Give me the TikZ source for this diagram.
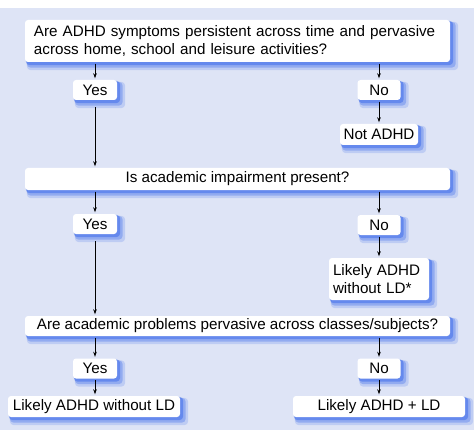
\documentclass[tikz,border=0pt]{standalone}
\usepackage{fontspec}
\setmainfont{Liberation Sans}
\usetikzlibrary{arrows.meta,backgrounds}
\definecolor{panel}{RGB}{222,228,246}
\definecolor{glow}{RGB}{65,110,235}

\tikzset{
  box/.style={draw=none, fill=white, rounded corners=3pt, inner sep=0pt,
    font=\fontsize{15.2}{18}\selectfont},
  qbox/.style={box, minimum width=425pt},
  ans/.style={box, minimum height=20pt},
  glowbox/.style={fill=glow, fill opacity=#1, rounded corners=4pt},
  arr/.style={-{Stealth[length=5pt,width=3.5pt]}, line width=0.9pt, shorten >=1.5pt, shorten <=1.5pt}
}

\begin{document}
\begin{tikzpicture}[x=1pt,y=-1pt]
  \useasboundingbox (0,0) rectangle (474,433);

  % first question
  \node[qbox, minimum height=42pt, text width=407pt, align=left] (q1) at (237.5,41)
    {Are ADHD symptoms persistent across time and pervasive\\across home, school and leisure activities?};
  \node[ans, minimum width=44pt] (yes1) at (95,90) {Yes};
  \node[ans, minimum width=43pt] (no1) at (379,90) {No};
  \node[ans, minimum width=78pt, minimum height=21pt] (notadhd) at (379,134.5) {Not ADHD};

  % second question
  \node[qbox, minimum height=22pt] (q2) at (237.5,179) {Is academic impairment present?};
  \node[ans, minimum width=44pt] (yes2) at (95,224) {Yes};
  \node[ans, minimum width=43pt] (no2) at (379,225) {No};
  \node[box, minimum width=100pt, minimum height=42pt, text width=92pt, align=left] (likely1) at (379,279)
    {Likely ADHD\\without LD*};

  % third question
  \node[qbox, minimum height=20pt] (q3) at (237.5,326) {Are academic problems pervasive across classes/subjects?};
  \node[ans, minimum width=44pt] (yes3) at (95,368.5) {Yes};
  \node[ans, minimum width=43pt] (no3) at (379,368.5) {No};
  \node[box, minimum width=172pt, minimum height=21pt] (likely2) at (94,406.5) {Likely ADHD without LD};
  \node[box, minimum width=172pt, minimum height=21pt] (likely3) at (379,406.5) {Likely ADHD + LD};

  % connectors
  \draw[arr] (yes1.north |- q1.south) -- (yes1.north);
  \draw[arr] (no1.north |- q1.south) -- (no1.north);
  \draw[arr] (no1) -- (notadhd);
  \draw[arr, shorten <=7pt] (yes1.south) -- (yes1.south |- q2.north);
  \draw[arr] (yes2.north |- q2.south) -- (yes2.north);
  \draw[arr] (no2.north |- q2.south) -- (no2.north);
  \draw[arr] (no2) -- (likely1);
  \draw[arr, shorten <=7pt] (yes2.south) -- (yes2.south |- q3.north);
  \draw[arr] (yes3.north |- q3.south) -- (yes3.north);
  \draw[arr] (no3.north |- q3.south) -- (no3.north);
  \draw[arr] (yes3.south) -- (yes3.south |- likely2.north);
  \draw[arr] (no3) -- (likely3);

  % panel and blue glow behind the boxes
  \begin{pgfonlayer}{background}
    \fill[panel] (0,8) rectangle (474,430);
    \foreach \n in {q1,yes1,no1,notadhd,q2,yes2,no2,likely1,q3,yes3,no3,likely2,likely3} {
      \fill[glowbox=0.2] ([shift={(2pt,-2pt)}]\n.north west) rectangle ([shift={(8pt,-8pt)}]\n.south east);
      \fill[glowbox=0.35] ([shift={(2pt,-2pt)}]\n.north west) rectangle ([shift={(5.5pt,-5.5pt)}]\n.south east);
      \fill[glowbox=0.55] ([shift={(1pt,-1pt)}]\n.north west) rectangle ([shift={(3pt,-3pt)}]\n.south east);
    }
  \end{pgfonlayer}
\end{tikzpicture}
\end{document}
